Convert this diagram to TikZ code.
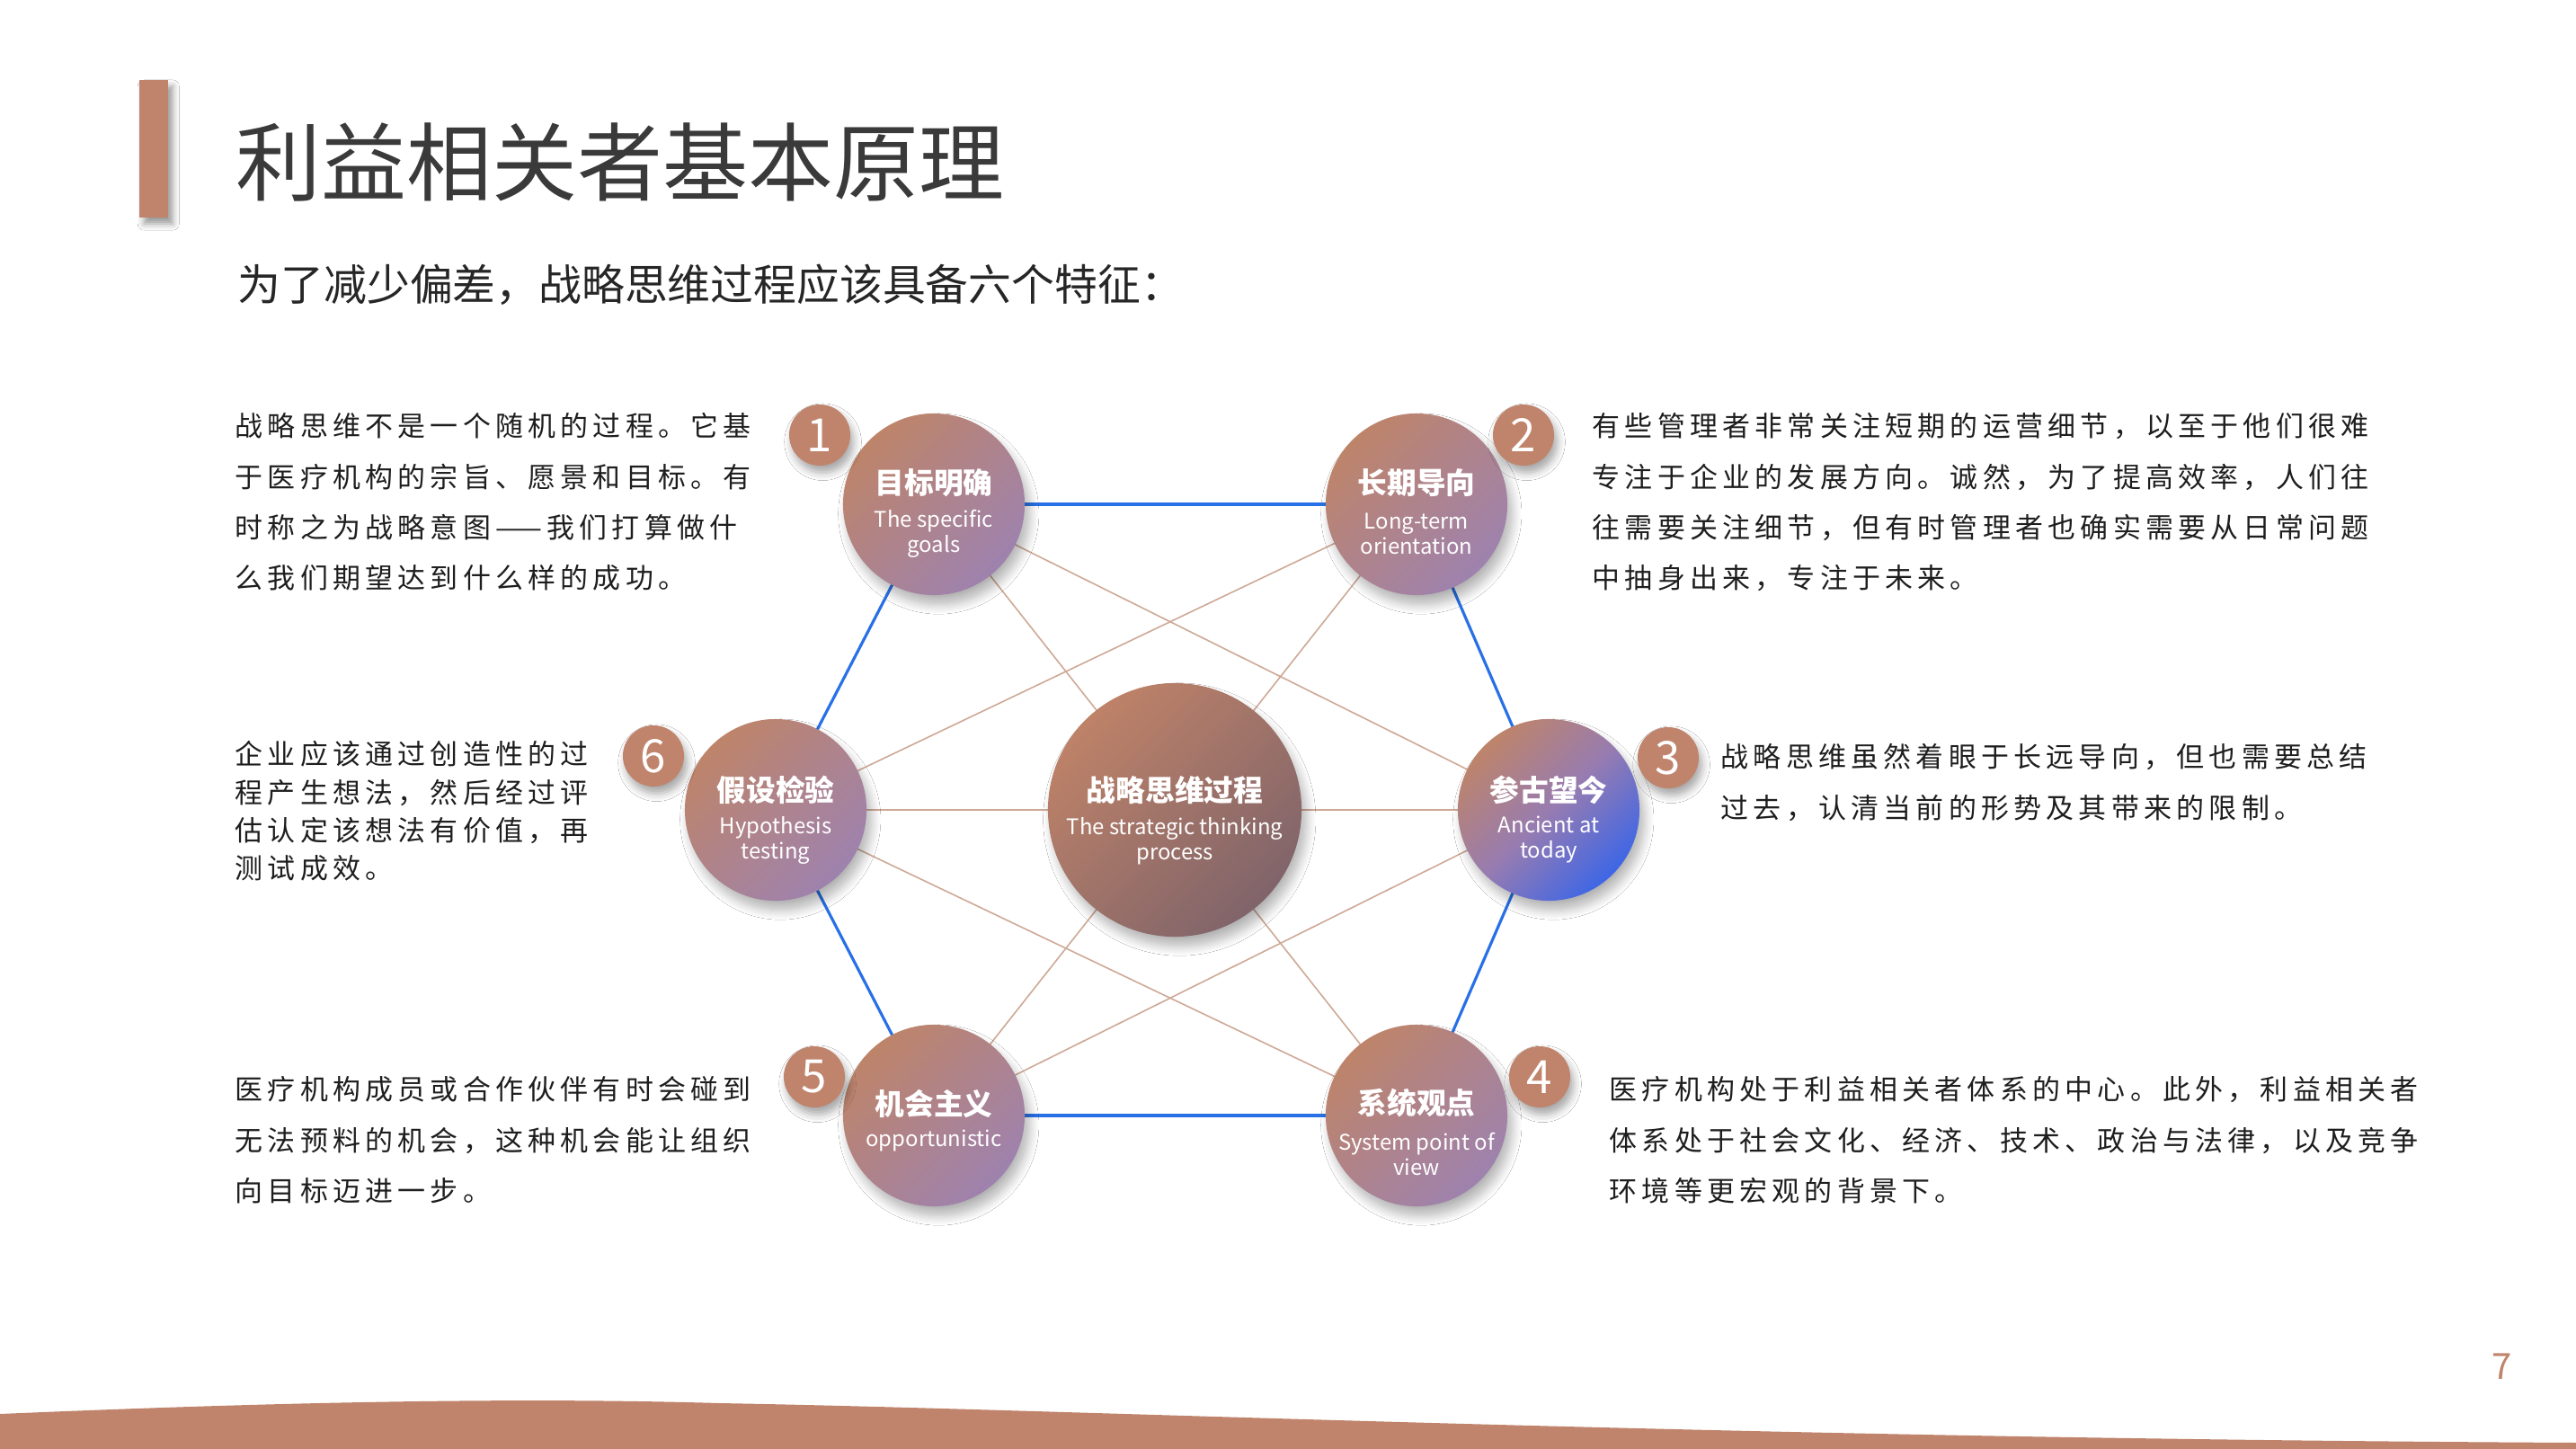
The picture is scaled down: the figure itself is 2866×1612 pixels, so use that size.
\documentclass[tikz,border=0pt]{standalone}
\usepackage{fontspec}
\setmainfont{Noto Sans CJK SC}
\newfontfamily\bodyfont[LetterSpace=17]{Noto Sans CJK SC}
\usetikzlibrary{calc,shadows.blur}

\definecolor{accent}{RGB}{192,132,108}
\definecolor{bubA}{RGB}{190,132,106}
\definecolor{bubB}{RGB}{158,130,174}
\definecolor{bubM}{RGB}{152,124,176}
\definecolor{bubBlue}{RGB}{62,102,230}
\definecolor{hubA}{RGB}{190,130,104}
\definecolor{hubB}{RGB}{128,100,106}
\definecolor{hexblue}{RGB}{40,112,230}
\definecolor{spokebrown}{RGB}{206,168,150}
\definecolor{titlegray}{RGB}{58,58,58}
\definecolor{bodyblack}{RGB}{30,30,30}

\tikzset{
	softshadow/.style={blur shadow={shadow xshift=1.5pt, shadow yshift=-3pt, shadow blur radius=3pt, shadow blur steps=10, shadow opacity=30}},
	bubble/.style={circle, minimum size=2.02cm, inner sep=0pt, top color=bubA, bottom color=bubB, shading angle=45, softshadow},
	bubblethree/.style={circle, minimum size=2.02cm, inner sep=0pt, top color=bubA, bottom color=bubBlue, middle color=bubM, shading angle=45, softshadow},
	hub/.style={circle, minimum size=2.82cm, inner sep=0pt, top color=hubA, bottom color=hubB, shading angle=45, softshadow},
	badge/.style={circle, minimum size=0.68cm, inner sep=0pt, fill=accent, text=white, font=\fontsize{14.5}{16}\selectfont, blur shadow={shadow xshift=1pt, shadow yshift=-2.2pt, shadow blur radius=2.5pt, shadow opacity=35}},
	titlebar/.style={rectangle, minimum width=0.32cm, minimum height=1.53cm, inner sep=0pt, fill=accent, blur shadow={shadow xshift=1.5pt, shadow yshift=-2pt, shadow blur radius=2pt, shadow opacity=40}},
	cnhead/.style={text=white, inner sep=0pt, font=\bfseries\fontsize{9.3}{11}\selectfont},
	ensub/.style={text=white, inner sep=0pt, align=center, font=\fontsize{6.8}{8}\selectfont},
	hexline/.style={draw=hexblue, line width=0.9pt},
	spoke/.style={draw=spokebrown, line width=0.45pt},
	bodytext/.style={anchor=north west, inner sep=0pt, align=left, text=bodyblack, font=\bodyfont\fontsize{8.8}{16}\selectfont},
}

\def\bubbletext(#1)(#2:#3)#4#5{\node[cnhead] (#1h) at ($(#1)+(0, #2)$) {#4}; \node[ensub] (#1e) at ($(#1)+(0, #3)$) {#5};}

\begin{document}
\begin{tikzpicture}[x=0.01cm, y=-0.01cm]
		%%%%% START %%%%%
		\useasboundingbox (0, 0) rectangle (2866, 1612);
		\fill[white] (0, 0) rectangle (2866, 1612);
		
		\node[titlebar] (bar) at (171, 165.5) {};
		\node[anchor=west, inner sep=0pt, text=titlegray, font=\fontsize{27}{32}\selectfont] (title) at (262, 180) {利益相关者基本原理};
		\node[anchor=west, inner sep=0pt, text=black!85, font=\fontsize{13.6}{16}\selectfont] (sub) at (264, 317) {为了减少偏差，战略思维过程应该具备六个特征：};
		
		\coordinate (c1) at (1039, 561);
		\coordinate (c2) at (1576, 561);
		\coordinate (c3) at (1723, 901);
		\coordinate (c4) at (1576, 1241);
		\coordinate (c5) at (1039, 1241);
		\coordinate (c6) at (863, 901);
		\coordinate (cc) at (1307, 901);
		
		\draw[hexline] (c1) -- (c2);
		\draw[hexline] (c2) -- (c3);
		\draw[hexline] (c3) -- (c4);
		\draw[hexline] (c4) -- (c5);
		\draw[hexline] (c5) -- (c6);
		\draw[hexline] (c6) -- (c1);
		\draw[spoke] (c1) -- (c3);
		\draw[spoke] (c3) -- (c5);
		\draw[spoke] (c2) -- (c6);
		\draw[spoke] (c6) -- (c4);
		\draw[spoke] (c1) -- (c4);
		\draw[spoke] (c2) -- (c5);
		\draw[spoke] (c3) -- (c6);
		
		\node[bubble] (n1) at (c1) {};
		\node[bubble] (n2) at (c2) {};
		\node[bubblethree] (n3) at (c3) {};
		\node[bubble] (n4) at (c4) {};
		\node[bubble] (n5) at (c5) {};
		\node[bubble] (n6) at (c6) {};
		\node[hub] (nc) at (cc) {};
		
		\bubbletext(n1)(-24:33){目标明确}{The specific\\goals}
		\bubbletext(n2)(-24:33){长期导向}{Long-term\\orientation}
		\bubbletext(n3)(-22:33){参古望今}{Ancient at\\today}
		\bubbletext(n4)(-14:43){系统观点}{System point of\\view}
		\bubbletext(n5)(-13:28){机会主义}{opportunistic}
		\bubbletext(n6)(-22:34){假设检验}{Hypothesis\\testing}
		\bubbletext(nc)(-22:35){战略思维过程}{The strategic thinking\\process}
		
		\node[badge] (b1) at (912, 484) {1};
		\node[badge] (b2) at (1695, 484) {2};
		\node[badge] (b3) at (1856, 843) {3};
		\node[badge] (b4) at (1713, 1198) {4};
		\node[badge] (b5) at (906, 1198) {5};
		\node[badge] (b6) at (727, 841) {6};
		
		\node[bodytext] (t1) at (261, 459) {战略思维不是一个随机的过程。它基\\于医疗机构的宗旨、愿景和目标。有\\时称之为战略意图——我们打算做什\\么我们期望达到什么样的成功。};
		\node[bodytext] (t2) at (1771, 459) {有些管理者非常关注短期的运营细节，以至于他们很难\\专注于企业的发展方向。诚然，为了提高效率，人们往\\往需要关注细节，但有时管理者也确实需要从日常问题\\中抽身出来，专注于未来。};
		\node[bodytext] (t3) at (1914, 827) {战略思维虽然着眼于长远导向，但也需要总结\\过去，认清当前的形势及其带来的限制。};
		\node[bodytext] (t4) at (1790, 1197) {医疗机构处于利益相关者体系的中心。此外，利益相关者\\体系处于社会文化、经济、技术、政治与法律，以及竞争\\环境等更宏观的背景下。};
		\node[bodytext] (t5) at (261, 1197) {医疗机构成员或合作伙伴有时会碰到\\无法预料的机会，这种机会能让组织\\向目标迈进一步。};
		\node[bodytext, font=\bodyfont\fontsize{8.8}{12}\selectfont] (t6) at (261, 824) {企业应该通过创造性的过\\程产生想法，然后经过评\\估认定该想法有价值，再\\测试成效。};
		
		\node[text=accent, inner sep=0pt, font=\fontsize{11.4}{13}\selectfont] (page) at (2784, 1520) {7};
		\fill[accent] (0, 1573) .. controls (350, 1558) and (600, 1555) .. (800, 1561) .. controls (1200, 1568) and (1900, 1600) .. (2866, 1605) -- (2866, 1612) -- (0, 1612) -- cycle;
		%%%%% END %%%%%
\end{tikzpicture}
\end{document}
